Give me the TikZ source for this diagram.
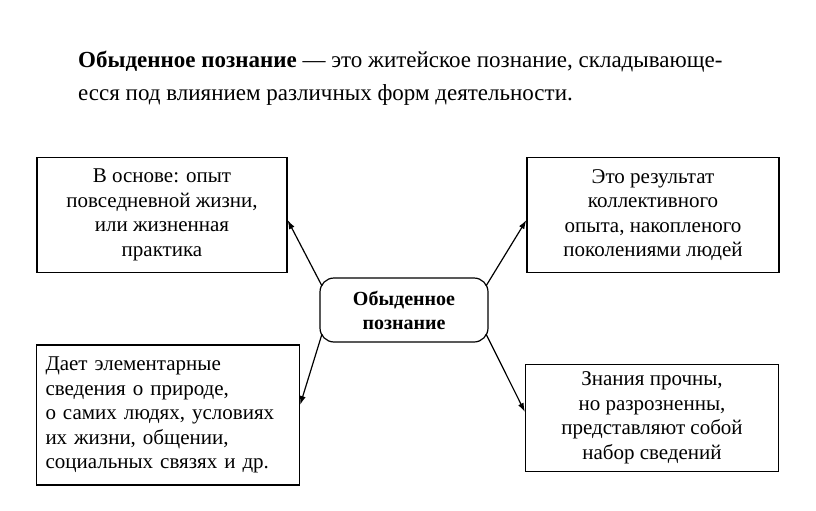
\documentclass[tikz,border=0pt]{standalone}
\usepackage{fontspec}
\usetikzlibrary{arrows.meta}
\setmainfont{Liberation Serif}
\begin{document}
\begin{tikzpicture}[x=1pt,y=-1pt,
  box/.style={draw,line width=1.2pt,font=\fontsize{21}{24.5}\selectfont,align=center,inner sep=0pt},
  arr/.style={-{Latex[length=9pt,width=6pt]},line width=1.2pt}]
\useasboundingbox (0,0) rectangle (816,511);
\node[anchor=west,font=\fontsize{23}{33}\selectfont,align=left,inner sep=0pt] (title) at (78,78)
 {\textbf{Обыденное познание} — это житейское познание, складывающе-\\есся под влиянием различных форм деятельности.};
\node[box,minimum width=250,minimum height=115] (tl) at (162,215) {В основе: опыт\\повседневной жизни,\\или жизненная\\практика};
\node[box,minimum width=252,minimum height=115] (tr) at (653,215) {Это результат\\коллективного\\опыта, накопленого\\поколениями людей};
\node[box,rounded corners=14pt,minimum width=168,minimum height=64,font=\fontsize{20}{24}\selectfont\bfseries] (c) at (404,310) {Обыденное\\познание};
\node[box,minimum width=263,minimum height=140,align=left,text width=245] (bl) at (168,415) {Дает элементарные\\сведения о природе,\\о самих людях, условиях\\их жизни, общении,\\социальных связях и др.};
\node[box,minimum width=253,minimum height=107] (br) at (652,418) {Знания прочны,\\но разрозненны,\\представляют собой\\набор сведений};
\coordinate (c1) at (322,286); \coordinate (c2) at (486,286);
\coordinate (c3) at (322,334); \coordinate (c4) at (486,334);
\draw[arr] (c1) -- (tl.east |- 0,220);
\draw[arr] (c2) -- (tr.west |- 0,220);
\draw[arr] (c3) -- (bl.east |- 0,405);
\draw[arr] (c4) -- (br.west |- 0,412);
\end{tikzpicture}
\end{document}
